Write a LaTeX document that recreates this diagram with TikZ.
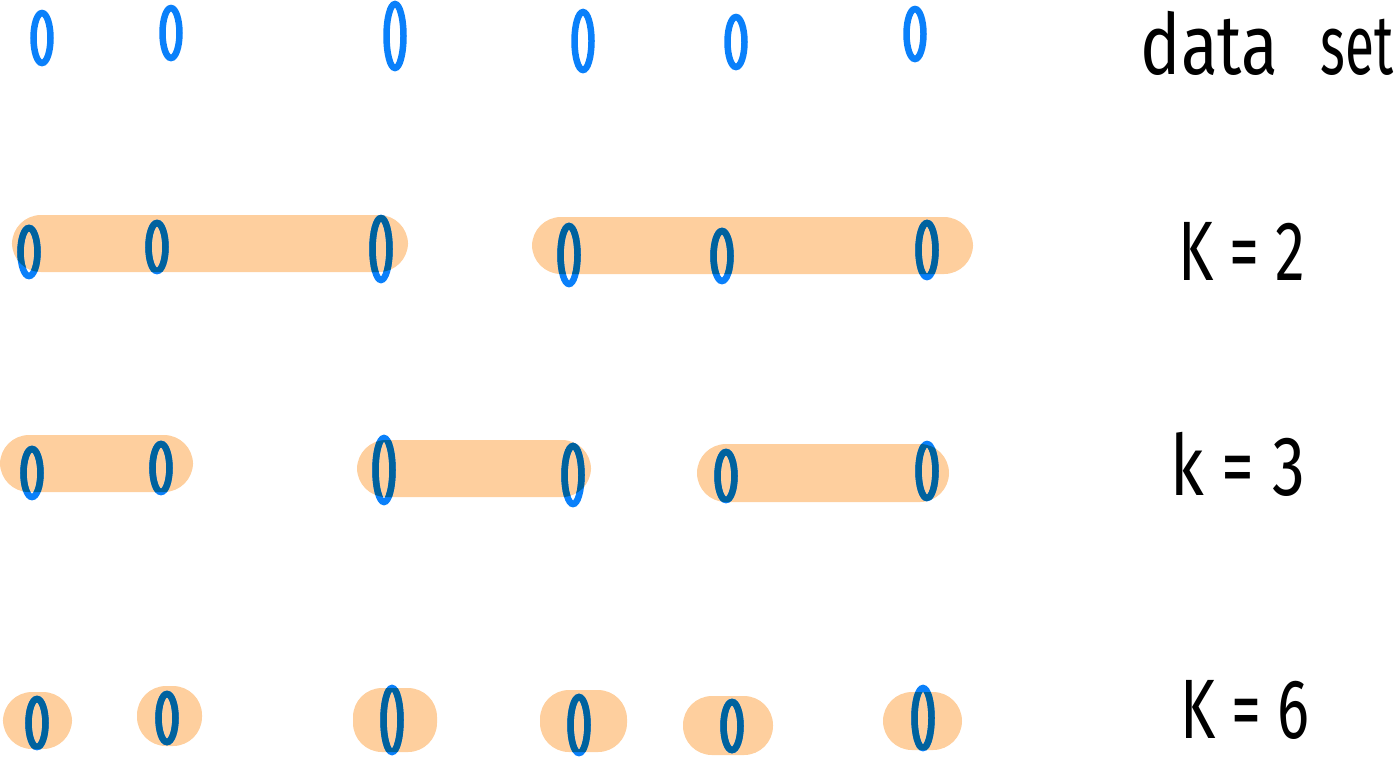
\documentclass[tikz,border=0pt]{standalone}
\usepackage{fontspec}
\setmainfont{Fira Sans}
\definecolor{ptblue}{HTML}{0A80FA}
\definecolor{ptdark}{HTML}{00629E}
\definecolor{clorange}{HTML}{FECF9E}
\def\allpoints{0.42/-0.38/0.25, 1.71/-0.33/0.25, 3.95/-0.36/0.32, 5.83/-0.41/0.29, 7.36/-0.42/0.25, 9.15/-0.34/0.25,
  0.29/-2.52/0.24, 1.57/-2.47/0.24, 3.81/-2.49/0.31, 5.69/-2.55/0.29, 7.22/-2.56/0.25, 9.27/-2.50/0.27,
  0.32/-4.73/0.24, 1.61/-4.68/0.24, 3.84/-4.70/0.32, 5.73/-4.75/0.29, 7.26/-4.76/0.24, 9.27/-4.71/0.27,
  0.37/-7.23/0.24, 1.67/-7.18/0.24, 3.92/-7.20/0.32, 5.79/-7.25/0.28, 7.32/-7.26/0.24, 9.23/-7.18/0.30}
\begin{document}
\begin{tikzpicture}[
  cluster/.style={fill=clorange, rounded corners=0.29cm},
  pointline/.style={line width=0.065cm},
  klabel/.style={anchor=base west, inner sep=0pt, font=\fontsize{24}{28}\selectfont}]
\useasboundingbox (0,0) rectangle (14,-7.58);
% clusters
\path[cluster] (0.12,-2.15) rectangle (4.08,-2.72);
\path[cluster] (5.32,-2.17) rectangle (9.73,-2.74);
\path[cluster] (0,-4.35) rectangle (1.93,-4.92);
\path[cluster] (3.57,-4.40) rectangle (5.91,-4.97);
\path[cluster] (6.97,-4.44) rectangle (9.49,-5.02);
\path[cluster] (0.03,-6.92) rectangle (0.72,-7.49);
\path[cluster] (1.37,-6.86) rectangle (2.02,-7.46);
\path[cluster] (3.53,-6.88) rectangle (4.37,-7.52);
\path[cluster] (5.40,-6.90) rectangle (6.27,-7.52);
\path[cluster] (6.83,-6.96) rectangle (7.73,-7.55);
\path[cluster] (8.83,-6.92) rectangle (9.62,-7.50);
% points
\foreach \x/\y/\r in \allpoints
  \draw[pointline, ptblue] (\x,\y) ellipse [x radius=0.085, y radius=\r];
\begin{scope}
\clip[rounded corners=0.29cm] (0.12,-2.15) rectangle (4.08,-2.72)
  (5.32,-2.17) rectangle (9.73,-2.74)
  (0,-4.35) rectangle (1.93,-4.92) (3.57,-4.40) rectangle (5.91,-4.97)
  (6.97,-4.44) rectangle (9.49,-5.02)
  (0.03,-6.92) rectangle (0.72,-7.49) (1.37,-6.86) rectangle (2.02,-7.46)
  (3.53,-6.88) rectangle (4.37,-7.52) (5.40,-6.90) rectangle (6.27,-7.52)
  (6.83,-6.96) rectangle (7.73,-7.55) (8.83,-6.92) rectangle (9.62,-7.50);
\foreach \x/\y/\r in \allpoints
  \draw[pointline, ptdark] (\x,\y) ellipse [x radius=0.085, y radius=\r];
\end{scope}
% labels
\node[klabel] (dataset) at (11.40,-0.74) {\scalebox{0.8}[1]{data}\hspace{0.42cm}\scalebox{0.63}[1]{set}};
\node[klabel] (ktwo) at (11.78,-2.80) {\scalebox{0.71}[1]{K = 2}};
\node[klabel] (kthree) at (11.70,-4.95) {\scalebox{0.78}[1]{k = 3}};
\node[klabel] (ksix) at (11.80,-7.38) {\scalebox{0.71}[1]{K = 6}};
\end{tikzpicture}
\end{document}
